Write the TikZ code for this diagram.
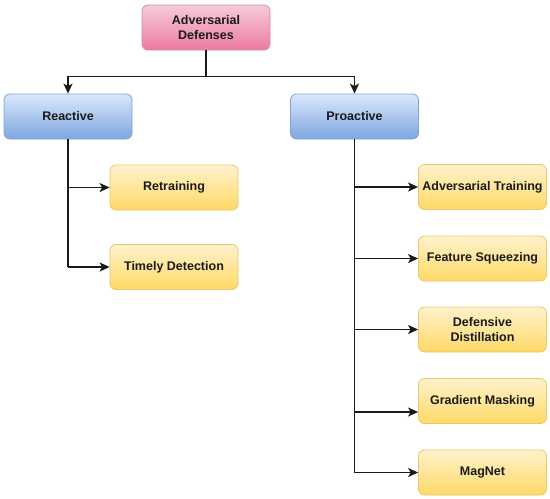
\documentclass[tikz,border=0pt]{standalone}
\usepackage{fontspec}
\setmainfont{Liberation Sans}
\usetikzlibrary{positioning, arrows.meta}
\definecolor{roottop}{HTML}{F6CADB}
\definecolor{rootbot}{HTML}{EC7AA3}
\definecolor{rootline}{HTML}{D987A6}
\definecolor{cattop}{HTML}{DAE8FC}
\definecolor{catbot}{HTML}{7EA6E0}
\definecolor{catline}{HTML}{7FA3D6}
\definecolor{leaftop}{HTML}{FFF2CC}
\definecolor{leafbot}{HTML}{FFD966}
\definecolor{leafline}{HTML}{E8C86A}
\definecolor{linkcol}{HTML}{1A1A1A}

\begin{document}
\begin{tikzpicture}[
			on grid,
			box/.style={
				rectangle,
				rounded corners=6pt,
				minimum width=128pt,
				minimum height=45pt,
				align=center,
				line width=0.8pt,
				text=linkcol,
				font=\fontsize{12.5}{14.5}\selectfont\bfseries
			},
			rootbox/.style={
				box,
				draw=rootline,
				top color=roottop,
				bottom color=rootbot
			},
			catbox/.style={
				box,
				draw=catline,
				top color=cattop,
				bottom color=catbot
			},
			leafbox/.style={
				box,
				draw=leafline,
				top color=leaftop,
				bottom color=leafbot
			},
			line/.style={
				draw=linkcol,
				line width=1.4pt
			},
			link/.style={
				line,
				-{Stealth[length=10pt,width=9pt,inset=2.5pt]}
			}
			]
			\useasboundingbox (0,0) rectangle (550pt,-499pt);
			
			% Nodes
			\node[rootbox] (root) at (206pt,-27.5pt) {Adversarial\\Defenses};
			\node[catbox] (reactive) [below left=89pt and 138pt of root] {Reactive};
			\node[catbox] (proactive) [below right=89pt and 148.5pt of root] {Proactive};
			
			\node[leafbox] (retrain) [below right=71pt and 106pt of reactive] {Retraining};
			\node[leafbox] (timely) [below=79.5pt of retrain] {Timely Detection};
			
			\node[leafbox] (advtrain) [below right=70.5pt and 128pt of proactive] {Adversarial Training};
			\node[leafbox] (featsq) [below=71.5pt of advtrain] {Feature Squeezing};
			\node[leafbox] (defdist) [below=71pt of featsq] {Defensive\\Distillation};
			\node[leafbox] (gradmask) [below=71.5pt of defdist] {Gradient Masking};
			\node[leafbox] (magnet) [below=71.5pt of gradmask] {MagNet};
			\coordinate (gradin) at ([yshift=-11pt]gradmask.west);
			
			% Connectors
			\draw[line] (root.south) -- ++(0,-26pt) coordinate (split);
			\draw[link] (split) -| (reactive.north);
			\draw[link] (split) -| (proactive.north);
			
			\draw[line] (reactive.south) -- (reactive.south |- timely.west);
			\draw[link] (reactive.south |- retrain.west) -- (retrain.west);
			\draw[link] (reactive.south |- timely.west) -- (timely.west);
			
			\draw[line] (proactive.south) -- (proactive.south |- magnet.west);
			\draw[link] (proactive.south |- advtrain.west) -- (advtrain.west);
			\draw[link] (proactive.south |- featsq.west) -- (featsq.west);
			\draw[link] (proactive.south |- defdist.west) -- (defdist.west);
			\draw[link] (proactive.south |- gradin) -- (gradin);
			\draw[link] (proactive.south |- magnet.west) -- (magnet.west);
		\end{tikzpicture}
\end{document}
